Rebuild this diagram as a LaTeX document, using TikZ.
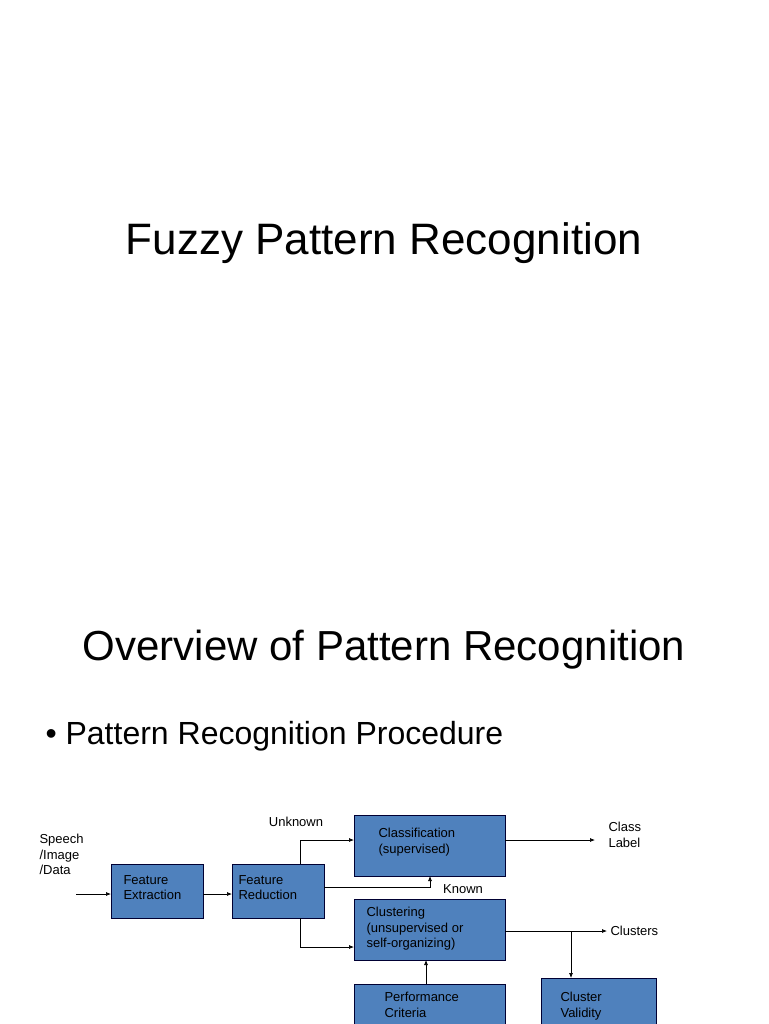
\documentclass[tikz,border=0pt]{standalone}
\usepackage{fontspec}
\setmainfont{Liberation Sans}
\usetikzlibrary{arrows.meta}
\begin{document}
\begin{tikzpicture}[x=1pt,y=-1pt,
  blk/.style={draw=black!80!blue,line width=0.8pt,fill={rgb,255:red,79;green,129;blue,189}},
  lbl/.style={font=\fontsize{13}{15.5}\selectfont,align=left},
  arr/.style={-{Latex[length=5pt,width=4pt]},line width=0.7pt}]
\useasboundingbox (0,0) rectangle (768,1024);
\node (t1) at (384,243) {\fontsize{44}{50}\selectfont Fuzzy Pattern Recognition};
\node (t2) at (384,650) {\fontsize{42}{48}\selectfont Overview of Pattern Recognition};
\node[anchor=west] (b1) at (42,736) {\fontsize{32}{38}\selectfont • Pattern Recognition Procedure};
\path[blk] (111,864) rectangle (203,918); \coordinate (fe) at (157,891);
\path[blk] (232,864) rectangle (324,918);
\path[blk] (354,815) rectangle (505,876);
\path[blk] (354,899) rectangle (505,960);
\path[blk] (354,984) rectangle (505,1030);
\path[blk] (541,978) rectangle (656,1030);
\node[lbl,anchor=north west] (fet) at (120,872) {Feature\\Extraction};
\node[lbl,anchor=north west] (frt) at (235,872) {Feature\\Reduction};
\node[lbl,anchor=north west] (clt) at (375,825) {Classification\\(supervised)};
\node[lbl,anchor=north west] (cut) at (363,904) {Clustering\\(unsupervised or\\self-organizing)};
\node[lbl,anchor=north west] (pct) at (381,989) {Performance\\Criteria};
\node[lbl,anchor=north west] (cvt) at (557,989) {Cluster\\Validity};
\node[lbl,anchor=north west] (inp) at (36,831) {Speech\\/Image\\/Data};
\node[lbl] (unk) at (296,822) {Unknown};
\node[lbl] (kn) at (463,889) {Known};
\node[lbl,anchor=north west] (cll) at (605,819) {Class\\Label};
\node[lbl,anchor=west] (cls) at (607,931) {Clusters};
\coordinate (in) at (76,894);
\draw[arr] (in) -- (111,894);
\draw[arr] (203,894) -- (232,894);
\draw[arr] (300,864) |- (354,840);
\draw[arr] (324,887) -| (430,876);
\draw[arr] (300,918) |- (354,947);
\draw[arr] (505,840) -- (595,840);
\draw[arr] (505,931) -- (cls.west);
\draw[arr] (571,931) -- (571,978);
\draw[arr] (426,984) -- (426,960);
\end{tikzpicture}
\end{document}
